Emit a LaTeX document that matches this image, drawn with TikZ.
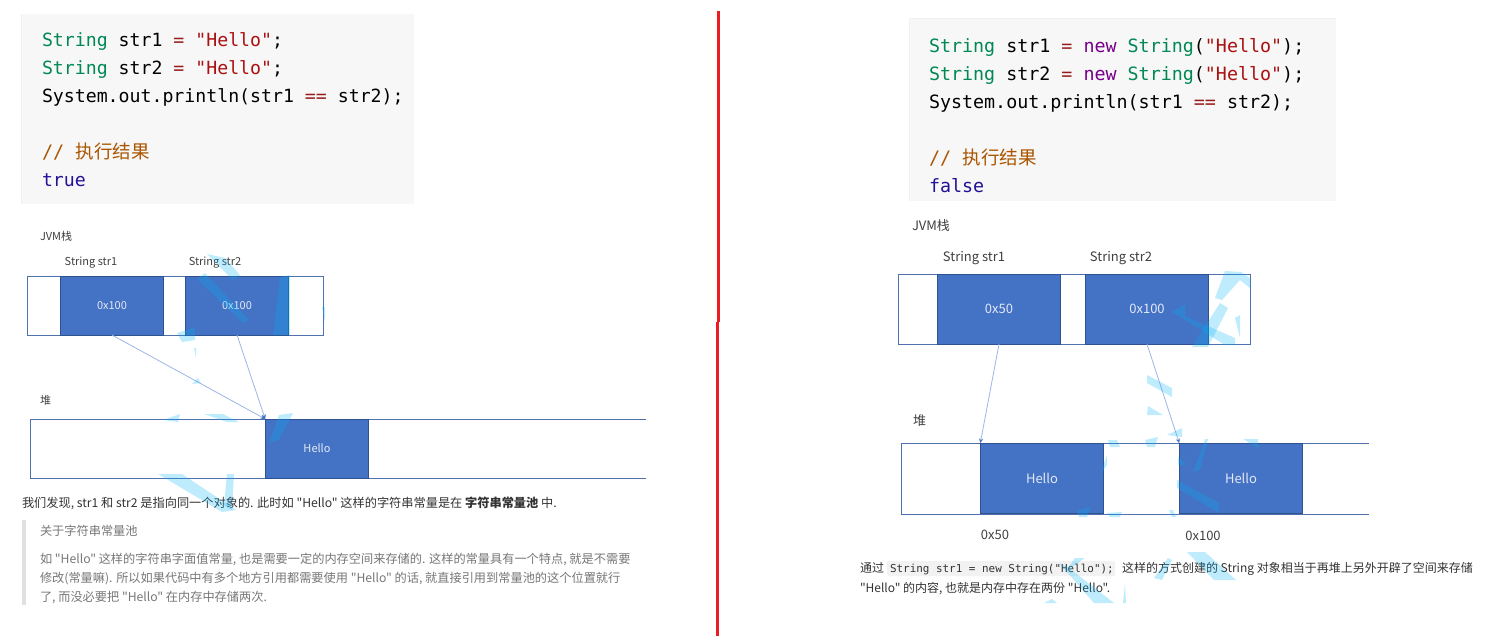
\documentclass[tikz,border=0pt]{standalone}
\usepackage{fontspec}
\newfontfamily\zhf{Noto Sans CJK SC}
\newfontfamily\codef{DejaVu Sans Mono}
\definecolor{cgreen}{HTML}{008855}
\definecolor{cop}{HTML}{981A1A}
\definecolor{cstr}{HTML}{AA1111}
\definecolor{ckw}{HTML}{770088}
\definecolor{ccom}{HTML}{AA5500}
\definecolor{catom}{HTML}{221199}
\definecolor{cbg}{HTML}{F7F7F7}
\definecolor{cblue}{HTML}{4472C4}
\definecolor{cedge}{HTML}{2F528F}
\definecolor{cbarline}{HTML}{4F71B0}
\definecolor{carrow}{HTML}{9DB6E8}
\definecolor{cgrey}{HTML}{777777}
\definecolor{cbody}{HTML}{333333}
\definecolor{clabel}{HTML}{404040}
\definecolor{cshard}{HTML}{00B4FA}
\definecolor{cred}{HTML}{ED1C24}
\newcommand{\cs}[1]{\textcolor{cgreen}{#1}}
\newcommand{\co}[1]{\textcolor{cop}{#1}}
\newcommand{\cq}[1]{\textcolor{cstr}{#1}}
\newcommand{\cn}[1]{\textcolor{ckw}{#1}}
\newcommand{\dn}[1]{\raisebox{-2.25pt}{#1}}
\usetikzlibrary{arrows.meta}
\tikzset{
  x=0.75pt,y=-0.75pt,
  codeline/.style={anchor=base west,inner sep=0,outer sep=0,font=\codef\fontsize{13.65pt}{16pt}\selectfont,text=black},
  codelineR/.style={codeline,font=\codef\fontsize{13.75pt}{16pt}\selectfont},
  zhcom/.style={anchor=base west,inner sep=0,outer sep=0,font=\zhf\fontsize{13.9pt}{16pt}\selectfont,text=ccom},
  codebg/.style={fill=cbg,draw=none},
  bar/.style={draw=cbarline,line width=0.7pt,fill=white,inner sep=0,outer sep=0},
  cell/.style={draw=cedge,line width=0.7pt,fill=cblue,text=white!85!cblue,inner sep=0,outer sep=0},
  smallcell/.style={cell,minimum width=77.6pt,minimum height=44.25pt,font=\zhf\fontsize{8.25pt}{10pt}\selectfont},
  bigcell/.style={cell,minimum width=92.6pt,minimum height=53pt,font=\zhf\fontsize{9.75pt}{12pt}\selectfont},
  small/.style={inner sep=0,outer sep=0,text=clabel,font=\zhf\fontsize{8.25pt}{10pt}\selectfont},
  big/.style={inner sep=0,outer sep=0,text=clabel,font=\zhf\fontsize{9.75pt}{12pt}\selectfont},
  ptr/.style={draw=carrow,line width=0.6pt,-{Stealth[length=3.5pt,width=3pt,color=cblue]}},
  body/.style={anchor=base west,inner sep=0,outer sep=0,text=cbody,font=\zhf\fontsize{9pt}{10pt}\selectfont},
  bodyL/.style={body,font=\zhf\fontsize{9.15pt}{10pt}\selectfont},
  quote/.style={bodyL,text=cgrey},
  shard/.style={fill=cshard,opacity=0.25,draw=none},
  divider/.style={draw=cred,line width=2.25pt},
}
\begin{document}
\begin{tikzpicture}
\useasboundingbox (0,0) rectangle (1488,640);
\fill[white] (0,0) rectangle (1488,640);

% ---- divider
\draw[divider] (718,11) -- (718,322);
\draw[divider] (717,322) -- (717,636);

% ---- left code
\fill[codebg] (21,14) rectangle (414,204);
\fill[black!6] (21,14) rectangle (22,204);
\node[codeline] (l1) at (42,46.5) {\cs{String} str1 \co{=} \cq{"Hello"};};
\node[codeline] (l2) at (42,74.5) {\cs{String} str2 \co{=} \cq{"Hello"};};
\node[codeline] (l3) at (42,102.5) {System.out.println(str1 \co{==} str2);};
\node[zhcom] (l4) at (42,158.5) {{\codef // }执行结果};
\node[codeline,text=catom] (l5) at (42,186.5) {true};

% ---- left diagram
\node[small,anchor=west] (jvmL) at (40,236.5) {\dn{JVM栈}};
\node[small] (s1L) at (91,263) {\dn{String str1}};
\node[small] (s2L) at (215,263) {\dn{String str2}};
\node[bar,minimum width=222pt,minimum height=44.25pt] (stackL) at (175,305.5) {};
\node[smallcell] (c1L) at (112,305.5) {\dn{0x100}};
\node[smallcell] (c2L) at (237,305.5) {\dn{0x100}};
\node[small,anchor=west] (heapL) at (40,400) {\dn{堆}};
\draw[cbarline,line width=0.7pt,fill=white] (646,419) -- (30,419) -- (30,478) -- (646,478);
\node[smallcell] (hL) at (317,448.5) {\dn{Hello}};
\draw[ptr] (c1L.south) -- (hL.north west);
\draw[ptr] (c2L.south) -- (hL.north west);

% ---- left text
\node[bodyL] (t1) at (22,507) {我们发现, str1 和 str2 是指向同一个对象的. 此时如 "Hello" 这样的字符串常量是在 \textbf{字符串常量池} 中.};
\fill[black!12] (22,520) rectangle (26,605);
\node[quote] (q1) at (40,535) {关于字符串常量池};
\node[quote] (q2) at (40,563) {如 "Hello" 这样的字符串字面值常量, 也是需要一定的内存空间来存储的. 这样的常量具有一个特点, 就是不需要};
\node[quote] (q3) at (40,582) {修改(常量嘛). 所以如果代码中有多个地方引用都需要使用 "Hello" 的话, 就直接引用到常量池的这个位置就行};
\node[quote] (q4) at (40,601) {了, 而没必要把 "Hello" 在内存中存储两次.};

% ---- right code
\fill[codebg] (909,18) rectangle (1336,201);
\fill[black!6] (909,18) rectangle (910,201);
\fill[black!6] (909,18) rectangle (1336,19);
\node[codelineR] (r1) at (929,52) {\cs{String} str1 \co{=} \cn{new} \cs{String}(\cq{"Hello"});};
\node[codelineR] (r2) at (929,80) {\cs{String} str2 \co{=} \cn{new} \cs{String}(\cq{"Hello"});};
\node[codelineR] (r3) at (929,108) {System.out.println(str1 \co{==} str2);};
\node[zhcom] (r4) at (929,164) {{\codef // }执行结果};
\node[codelineR,text=catom] (r5) at (929,192) {false};

% ---- right diagram
\node[big,anchor=west] (jvmR) at (912,226) {\dn{JVM栈}};
\node[big] (s1R) at (974,258) {\dn{String str1}};
\node[big] (s2R) at (1121,258) {\dn{String str2}};
\node[bar,minimum width=264pt,minimum height=52.5pt] (stackR) at (1074,309) {};
\node[bigcell,minimum height=52.5pt] (c1R) at (999,309) {\dn{0x50}};
\node[bigcell,minimum height=52.5pt] (c2R) at (1147,309) {\dn{0x100}};
\node[big,anchor=west] (heapR) at (913,421) {\dn{堆}};
\draw[cbarline,line width=0.7pt,fill=white] (1369,443) -- (901,443) -- (901,514) -- (1369,514);
\node[bigcell] (h1R) at (1042,478.5) {\dn{Hello}};
\node[bigcell] (h2R) at (1241,478.5) {\dn{Hello}};
\node[big] (a1R) at (995,535) {\dn{0x50}};
\node[big] (a2R) at (1203,536) {\dn{0x100}};
\draw[ptr] (c1R.south) -- (h1R.north west);
\draw[ptr] (c2R.south) -- (h2R.north west);

% ---- right text
\fill[black!5,rounded corners=1.5pt] (887,561) rectangle (1115,576);
\node[body] (u1) at (860,572) {通过};
\node[anchor=base west,inner sep=0,outer sep=0,text=cbody,font=\codef\fontsize{8.2pt}{10pt}\selectfont] (u2) at (890,572) {String str1 = new String("Hello");};
\node[body] (u3) at (1122,572) {这样的方式创建的 String 对象相当于再堆上另外开辟了空间来存储};
\node[body] (u4) at (860,592) {"Hello" 的内容, 也就是内存中存在两份 "Hello".};

% ---- watermark fragments, left
\fill[shard] (197,279) -- (205,273) -- (249,320) -- (243,323) -- cycle;
\fill[shard] (207,254) -- (225,258) -- (240,275) -- (233,280) -- (215,262) -- cycle;
\fill[shard] (280,277) -- (290,275) -- (290,335) -- (273,335) -- cycle;
\fill[shard] (177,333) -- (195,327) -- (195,340) -- (182,342) -- cycle;
\fill[shard] (163,420) -- (180,414) -- (178,422) -- cycle;
\fill[shard] (204,414) -- (223,414) -- (239,422) -- (227,422) -- cycle;
\fill[shard] (269,443) -- (279,415) -- (293,413) -- (279,440) -- cycle;
\fill[shard] (158,474) -- (182,474) -- (236,510) -- (222,512) -- cycle;
\fill[shard] (227,474) -- (234,474) -- (232,510) -- (224,505) -- cycle;
\fill[shard] (198,378) -- (201,383) -- (192,384) -- cycle;
\fill[shard] (194,348) -- (196,348) -- (196,358) -- cycle;
\fill[shard] (322,307) -- (325,307) -- (325,322) -- cycle;
% ---- watermark fragments, right
\fill[shard] (1225,271) -- (1241,272) -- (1250,278) -- (1250,288) -- (1240,280) -- (1222,300) -- (1215,298) -- cycle;
\fill[shard] (1172,312) -- (1185,304) -- (1185,316) -- (1235,338) -- (1235,345) -- (1225,345) -- cycle;
\fill[shard] (1192,347) -- (1220,303) -- (1228,308) -- (1208,347) -- cycle;
\fill[shard] (1235,318) -- (1240,315) -- (1240,338) -- cycle;
\fill[shard] (1147,375) -- (1172,388) -- (1172,397) -- (1147,383) -- cycle;
\fill[shard] (1147,415) -- (1148,406) -- (1163,415) -- cycle;
\fill[shard] (1145,440) -- (1158,437) -- (1155,447) -- (1147,447) -- cycle;
\fill[shard] (1167,435) -- (1182,428) -- (1182,437) -- cycle;
\fill[shard] (1108,440) -- (1117,440) -- (1120,447) -- (1110,447) -- cycle;
\fill[shard] (1100,475) -- (1107,455) -- (1107,465) -- cycle;
\fill[shard] (1178,457) -- (1187,465) -- (1178,465) -- cycle;
\fill[shard] (1205,439) -- (1208,439) -- (1200,470) -- (1193,472) -- cycle;
\fill[shard] (1243,439) -- (1258,439) -- (1258,448) -- cycle;
\fill[shard] (1177,480) -- (1219,503) -- (1219,513) -- (1177,488) -- cycle;
\fill[shard] (1077,510) -- (1091,507) -- (1087,517) -- (1079,517) -- cycle;
\fill[shard] (1107,513) -- (1122,512) -- (1120,517) -- (1110,517) -- cycle;
\fill[shard] (1169,510) -- (1173,510) -- (1176,517) -- (1172,517) -- cycle;
\fill[shard] (1059,563) -- (1069,568) -- (1114,603) -- (1094,603) -- cycle;
\fill[shard] (1075,558) -- (1085,558) -- (1065,572) -- cycle;
\fill[shard] (1187,552) -- (1205,552) -- (1236,580) -- (1214,580) -- cycle;
\fill[shard] (1154,578) -- (1168,558) -- (1172,560) -- (1162,580) -- cycle;
\fill[shard] (1044,603) -- (1052,599) -- (1057,603) -- cycle;
\fill[shard] (1123,603) -- (1125,583) -- (1126,603) -- cycle;
\end{tikzpicture}
\end{document}
